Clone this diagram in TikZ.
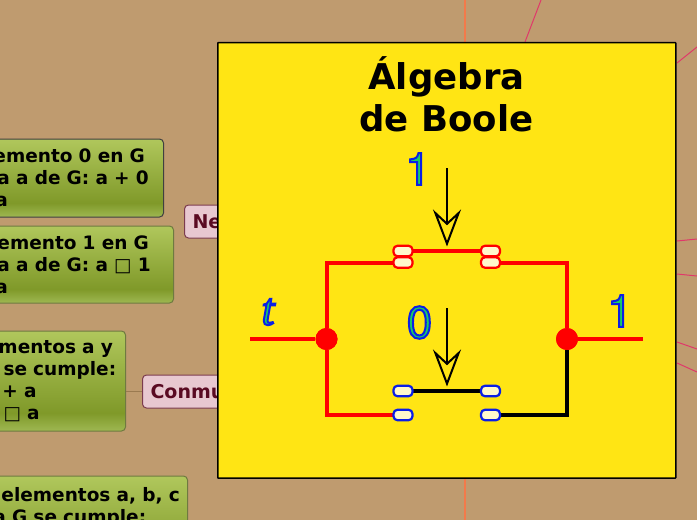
\documentclass[tikz,border=0pt]{standalone}
\usepackage{fontspec}
\setmainfont{DejaVu Sans}
\newfontfamily\digitfont{TeX Gyre Heros}
\newfontfamily\letterfont{Liberation Serif}
\usepackage{tikz}
\usetikzlibrary{arrows.meta}
\usetikzlibrary{positioning}

\definecolor{canvas}{HTML}{BF9B6F}
\definecolor{panel}{HTML}{FFE514}
\definecolor{pinkbox}{HTML}{E8C8D0}
\definecolor{wine}{HTML}{5A0A22}
\definecolor{olive}{HTML}{6F7A40}
\definecolor{twig}{HTML}{9A7A50}
\definecolor{linkpink}{HTML}{E0386A}
\definecolor{linkorange}{HTML}{F37A4A}
\definecolor{pill}{HTML}{FFF8CC}
\definecolor{wirered}{HTML}{FF0000}
\definecolor{wireblue}{HTML}{0A1EE6}

\pgfdeclareverticalshading{oliveshade}{100bp}{rgb(0bp)=(.62,.72,.32);rgb(25bp)=(.62,.72,.32);rgb(34bp)=(.50,.60,.16);rgb(75bp)=(.69,.78,.36);rgb(100bp)=(.69,.78,.36)}

\newcommand{\outlined}[1]{\special{pdf:code 2 Tr 2 w 0.04 0.12 0.9 RG 0.1 0.8 0.4 rg}#1\special{pdf:code 0 Tr}}

\tikzset{
	greenbox/.style={shading=oliveshade,draw=olive,line width=1pt,rounded corners=4pt,anchor=west,align=left,inner xsep=3pt,inner ysep=0pt,text=black,font=\fontsize{18.5}{22}\selectfont\bfseries},
	pinkbase/.style={fill=pinkbox,draw=wine!80,line width=1pt,rounded corners=4pt,anchor=west,text=wine,minimum height=33pt,inner xsep=8pt,inner ysep=0pt,font=\fontsize{19}{22}\selectfont\bfseries},
	panelbox/.style={fill=panel,draw=black,line width=1.5pt,rounded corners=0.5pt,anchor=north west,minimum width=458pt,minimum height=435.3pt,inner sep=0pt,outer sep=0pt},
	redwire/.style={wirered,line width=4pt},
	blackwire/.style={black,line width=4pt},
	contactred/.style={draw=wirered,fill=pill,line width=2.2pt,rounded corners=4pt,minimum width=19pt,minimum height=10.5pt,inner sep=0pt},
	contactblue/.style={draw=wireblue,fill=pill,line width=2.2pt,rounded corners=4pt,minimum width=19pt,minimum height=10.5pt,inner sep=0pt},
	junction/.style={circle,fill=wirered,minimum size=22pt,inner sep=0pt},
	pressarrow/.style={draw=black,line width=2pt,-{Stealth[open,fill=panel,length=37pt,width=28pt,inset=13pt]}},
	digit/.style={inner sep=0pt,font=\fontsize{45}{45}\selectfont\digitfont},
	letter/.style={inner sep=0pt,font=\fontsize{46}{46}\selectfont\letterfont\itshape}
}

\begin{document}
\begin{tikzpicture}[x=1pt,y=-1pt]

	\useasboundingbox (0,0) rectangle (697,520);
	\clip (0,0) rectangle (697,520);
	\fill[canvas] (0,0) rectangle (697,520);

	\node (boxcero) at (-6,178)[greenbox,text width=163pt,minimum height=78pt,draw=black!75] {\hspace*{-4pt}emento 0 en G\\a a de G: a + 0\\\hspace*{-2pt}a};
	\node (boxuno) at (-6,264.5)[greenbox,text width=173pt,minimum height=77pt] {emento 1 en G\\a a de G: a □ 1\\\hspace*{-2pt}a};
	\node (boxconmu) at (-6,381)[greenbox,text width=125pt,minimum height=100pt] {\hspace*{1pt}mentos a y\\\hspace*{6pt}se cumple:\\\hspace*{5pt}+ a\\\hspace*{6pt}□ a};
	\node (boxasoc) at (-6,527)[greenbox,text width=187pt,minimum height=102pt] {\hspace*{4pt}elementos a, b, c\\\hspace*{-4pt}a G se cumple:\\~\\~};

	\node (neutro) at (184,221.5)[pinkbase,minimum width=60pt,text width=44pt] {Ne};
	\node (conmu) at (142,391.5)[pinkbase,minimum width=100pt,text width=84pt] {Conmu};
	\draw[twig,line width=1pt] (conmu.west) -- (boxconmu.east |- conmu.west);

	\coordinate (topa) at (465,0);
	\coordinate (topb) at (465,42);
	\coordinate (bota) at (465,478);
	\coordinate (botb) at (465,520);
	\draw[linkorange,line width=2.5pt] (topa) -- (topb);
	\draw[linkorange,line width=2.5pt] (bota) -- (botb);

	\coordinate (la) at (541,0);
	\coordinate (lb) at (525,42);
	\coordinate (ra) at (697,47);
	\coordinate (rb) at (677,63);
	\coordinate (rc) at (697,239);
	\coordinate (rd) at (677,241);
	\coordinate (re) at (697,276);
	\coordinate (rf) at (677,274);
	\coordinate (rg) at (697,349);
	\coordinate (rh) at (677,342);
	\coordinate (ri) at (697,372);
	\coordinate (rj) at (677,363);
	\draw[linkpink,line width=1pt] (la) -- (lb);
	\draw[linkpink,line width=1pt] (ra) -- (rb);
	\draw[linkpink,line width=1pt] (rc) -- (rd);
	\draw[linkpink,line width=1pt] (re) -- (rf);
	\draw[linkpink,line width=1pt] (rg) -- (rh);
	\draw[linkpink,line width=1pt] (ri) -- (rj);

	\node (panel) at (217.8,42.7)[panelbox] {};

	\node (title) at (446.5,94)[align=center,inner sep=0pt,font=\fontsize{35.5}{42}\selectfont\bfseries] {Álgebra\\de Boole};

	\coordinate (inleft) at (250,339);
	\coordinate (outright) at (643,339);
	\node (jleft) at (326.5,339)[junction] {};
	\node (jright) at (567,339)[junction] {};

	\draw[redwire] (inleft) -- (jleft);
	\draw[redwire] (jright) -- (outright);
	\draw[redwire] (jleft) |- (403,262.5);
	\draw[redwire] (403,251) -- (490.5,251);
	\draw[redwire] (490.5,262.5) -| (jright);
	\draw[redwire] (jleft) |- (403,415);
	\draw[blackwire] (403,391) -- (490.5,391);
	\draw[blackwire] (490.5,415) -| (jright);

	\node (ra1) at (403,251)[contactred] {};
	\node (ra2) at (403,262.5)[contactred] {};
	\node (rb1) at (490.5,251)[contactred] {};
	\node (rb2) at (490.5,262.5)[contactred] {};
	\node (ba1) at (403,391)[contactblue] {};
	\node (ba2) at (403,415)[contactblue] {};
	\node (bb1) at (490.5,391)[contactblue] {};
	\node (bb2) at (490.5,415)[contactblue] {};

	\node (jlefttop) at (326.5,339)[junction] {};
	\node (jrighttop) at (567,339)[junction] {};

	\coordinate (starta) at (447,168);
	\coordinate (enda) at (447,246.5);
	\coordinate (startb) at (447,308);
	\coordinate (endb) at (447,386.5);
	\draw[pressarrow] (starta) -- (enda);
	\draw[pressarrow] (startb) -- (endb);

	\node (one) at (418,169)[digit] {\outlined{1}};
	\node (zero) at (419.5,322.5)[digit] {\outlined{0}};
	\node (oneout) at (620,311)[digit] {\outlined{1}};
	\node (tee) at (268,312)[letter] {\outlined{t}};

\end{tikzpicture}
\end{document}
